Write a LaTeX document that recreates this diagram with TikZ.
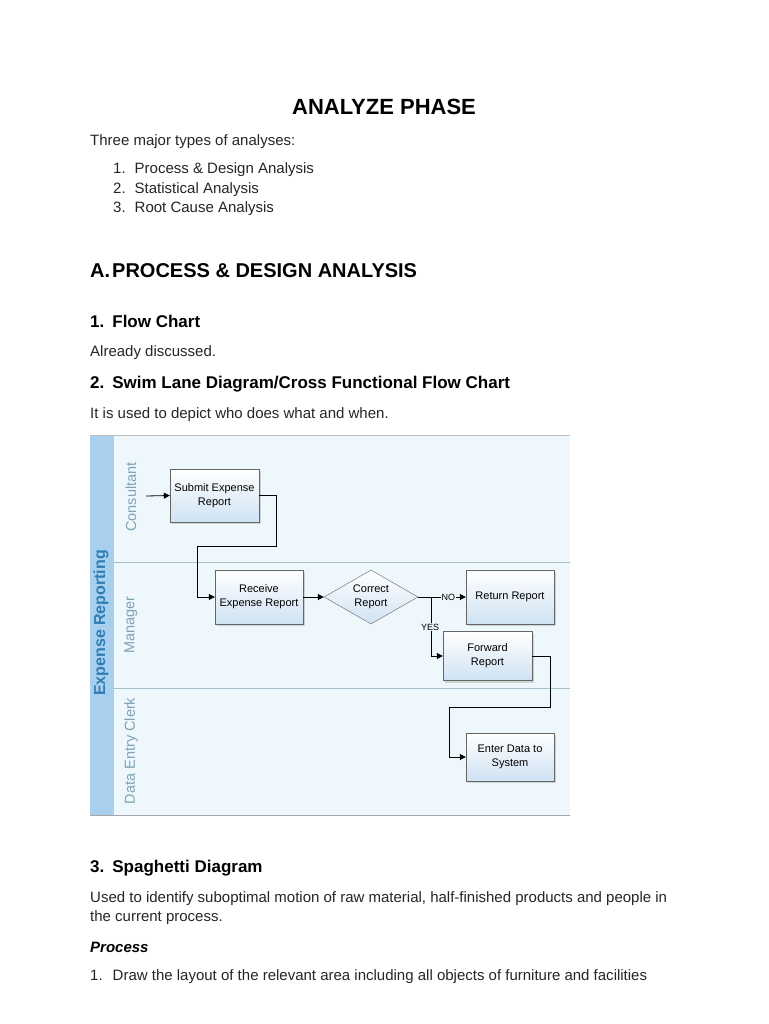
\documentclass[tikz,border=0pt]{standalone}
\usepackage{fontspec}
\setmainfont{Liberation Sans}
\usetikzlibrary{shapes.geometric,shadows,arrows.meta}
\definecolor{lanebg}{HTML}{EEF7FB}
\definecolor{bandbg}{HTML}{A8D0EE}
\definecolor{lanetxt}{HTML}{7FA3B5}
\definecolor{titleblue}{HTML}{2E7DB5}
\definecolor{boxbot}{HTML}{CFE2F3}
\tikzset{
  body/.style={anchor=west,font=\fontsize{15pt}{16pt}\selectfont,text=black!85,inner sep=0},
  head/.style={anchor=west,font=\bfseries\fontsize{17pt}{19pt}\selectfont,inner sep=0},
  proc/.style={draw=black!60,top color=white,bottom color=boxbot,drop shadow={opacity=0.3,shadow xshift=2pt,shadow yshift=-2pt},font=\fontsize{11pt}{14pt}\selectfont,align=center,inner sep=0},
  dec/.style={diamond,aspect=1.74,draw=black!60,top color=white,bottom color=boxbot,font=\fontsize{11pt}{14pt}\selectfont,align=center,inner sep=0,minimum width=94pt,minimum height=54pt},
  flow/.style={draw=black,line width=0.8pt,-{Triangle[length=6pt,width=6pt]}},
  lanelbl/.style={rotate=90,text=lanetxt,font=\fontsize{14.5pt}{16pt}\selectfont},
  tiny/.style={fill=lanebg,inner sep=1pt,font=\fontsize{9pt}{10pt}\selectfont},
}
\begin{document}
\begin{tikzpicture}[x=1pt,y=-1pt]
\useasboundingbox (0,0) rectangle (768,1024);
\fill[white] (0,0) rectangle (768,1024);
% text
\node[font=\bfseries\fontsize{22pt}{24pt}\selectfont] (title) at (384,107) {ANALYZE PHASE};
\node[body] (t1) at (90,142) {Three major types of analyses:};
\node[body] (l1) at (113,170) {1.\hspace{9pt}Process \& Design Analysis};
\node[body] (l2) at (113,190) {2.\hspace{9pt}Statistical Analysis};
\node[body] (l3) at (113,209) {3.\hspace{9pt}Root Cause Analysis};
\node[anchor=west,inner sep=0,font=\bfseries\fontsize{20pt}{22pt}\selectfont] (hA) at (90,271) {A.\hspace{2pt}PROCESS \& DESIGN ANALYSIS};
\node[head] (h1) at (90,321) {1.\hspace{8pt}Flow Chart};
\node[body] (t2) at (90,353) {Already discussed.};
\node[head] (h2) at (90,384) {2.\hspace{8pt}Swim Lane Diagram/Cross Functional Flow Chart};
\node[body] (t3) at (90,415) {It is used to depict who does what and when.};
\node[head] (h3) at (90,868) {3.\hspace{8pt}Spaghetti Diagram};
\node[body] (t4) at (90,899) {Used to identify suboptimal motion of raw material, half-finished products and people in};
\node[body] (t5) at (90,918) {the current process.};
\node[anchor=west,inner sep=0,font=\bfseries\itshape\fontsize{15pt}{16pt}\selectfont] (h4) at (90,947) {Process};
\node[body] (t6) at (90,977) {1.\hspace{10pt}Draw the layout of the relevant area including all objects of furniture and facilities};
% swim lanes
\fill[lanebg] (114,435) rectangle (570,815);
\fill[bandbg] (90,435) rectangle (114,815);
\draw[black!25] (90,435) -- (570,435);
\draw[lanetxt!70,line width=0.8pt] (114,562) -- (570,562) (114,688) -- (570,688);
\draw[black!35,line width=0.8pt] (90,815) -- (570,815);
\node[rotate=90,text=titleblue,font=\bfseries\fontsize{16pt}{18pt}\selectfont] (er) at (101,623) {Expense Reporting};
\node[lanelbl] (c) at (131,497) {Consultant};
\node[lanelbl] (m) at (131,625) {Manager};
\node[lanelbl] (d) at (131,751) {Data Entry Clerk};
% nodes
\node[proc,minimum width=89pt,minimum height=53pt] (s) at (214.5,495.5) {Submit Expense\\Report};
\node[proc,minimum width=88pt,minimum height=54pt] (r) at (259,597) {Receive\\Expense Report};
\node[dec] (q) at (371,597) {Correct\\Report};
\node[proc,minimum width=88pt,minimum height=54pt] (ret) at (510,597) {Return Report};
\node[proc,minimum width=89pt,minimum height=49pt] (f) at (487.5,656) {Forward\\Report};
\node[proc,minimum width=88pt,minimum height=48pt] (e) at (510,757) {Enter Data to\\System};
\coordinate (st) at (146,496);
% connectors
\draw[flow] (st) -- (s.west);
\draw[flow] (s.east) -| (276,546) -| (197,597) -- (r.west);
\draw[flow] (r.east) -- (q.west);
\draw[line width=0.8pt] (q.east) -- (431,597);
\draw[flow] (431,597) -- node[tiny]{NO} (ret.west);
\draw[flow] (431,597) |- (f.west);
\node[tiny] (yes) at (430,627) {YES};
\draw[flow] (f.east) -| (550,707) -| (449,757) -- (e.west);
\end{tikzpicture}
\end{document}
